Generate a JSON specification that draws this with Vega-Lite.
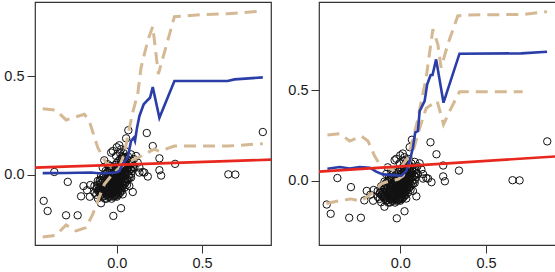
{
  "$schema": "https://vega.github.io/schema/vega-lite/v6.json",
  "padding": {"left": 0, "top": 1, "right": 0, "bottom": 0},
  "spacing": 12,
  "background": "white",
  "config": {
    "view": {"stroke": "#333333", "strokeWidth": 1.2},
    "axis": {
      "domain": false, "grid": false, "tickSize": 8, "tickColor": "#333333", "tickWidth": 1,
      "labelFontSize": 14.5, "labelFont": "Liberation Sans", "labelColor": "#1a1a1a",
      "labelPadding": 3, "title": null
    },
    "axisY": {"minExtent": 34, "maxExtent": 34}
  },
  "datasets": {
    "pts": [
      {"x": -0.366, "y": 0.015}, {"x": -0.428, "y": -0.131}, {"x": -0.405, "y": -0.182}, {"x": -0.287, "y": -0.035},
      {"x": -0.297, "y": -0.204}, {"x": -0.229, "y": -0.204}, {"x": -0.209, "y": -0.108}, {"x": -0.195, "y": -0.056},
      {"x": -0.174, "y": -0.077}, {"x": -0.155, "y": -0.051}, {"x": -0.158, "y": -0.110}, {"x": -0.111, "y": -0.118},
      {"x": -0.092, "y": -0.143}, {"x": -0.020, "y": -0.207}, {"x": 0.025, "y": -0.168}, {"x": 0.094, "y": -0.086},
      {"x": 0.068, "y": 0.226}, {"x": 0.055, "y": 0.185}, {"x": 0.176, "y": 0.212}, {"x": 0.211, "y": 0.146},
      {"x": 0.250, "y": 0.084}, {"x": 0.250, "y": 0.024}, {"x": 0.260, "y": -0.003}, {"x": 0.342, "y": 0.056},
      {"x": 0.182, "y": -0.008}, {"x": 0.152, "y": 0.015}, {"x": 0.133, "y": 0.012}, {"x": 0.654, "y": 0.003},
      {"x": 0.695, "y": 0.002}, {"x": 0.856, "y": 0.217}, {"x": 0.113, "y": 0.096}, {"x": 0.103, "y": 0.037},
      {"x": 0.015, "y": 0.150}, {"x": 0.025, "y": 0.130}, {"x": -0.023, "y": 0.121}, {"x": -0.004, "y": 0.096},
      {"x": 0.084, "y": 0.104}, {"x": 0.123, "y": 0.062}, {"x": 0.133, "y": 0.037}, {"x": 0.162, "y": 0.012},
      {"x": 0.084, "y": 0.029}, {"x": 0.084, "y": -0.013}, {"x": 0.074, "y": -0.056}, {"x": 0.035, "y": -0.098},
      {"x": -0.014, "y": -0.106}, {"x": -0.053, "y": -0.098}, {"x": -0.131, "y": -0.056}, {"x": -0.111, "y": -0.030},
      {"x": -0.092, "y": -0.005}, {"x": -0.082, "y": 0.037}, {"x": -0.053, "y": 0.054}, {"x": -0.073, "y": 0.074},
      {"x": -0.033, "y": 0.113}, {"x": 0.0, "y": 0.14}, {"x": 0.02, "y": 0.11}, {"x": 0.04, "y": 0.09},
      {"x": 0.05, "y": 0.12}, {"x": 0.07, "y": 0.07}, {"x": 0.09, "y": 0.06}, {"x": 0.10, "y": 0.08},
      {"x": -0.10, "y": -0.09}, {"x": -0.09, "y": -0.07}, {"x": -0.09, "y": -0.10}, {"x": -0.08, "y": -0.06},
      {"x": -0.08, "y": -0.08}, {"x": -0.08, "y": -0.11}, {"x": -0.07, "y": -0.04}, {"x": -0.07, "y": -0.07},
      {"x": -0.07, "y": -0.09}, {"x": -0.07, "y": -0.12}, {"x": -0.06, "y": -0.03}, {"x": -0.06, "y": -0.05},
      {"x": -0.06, "y": -0.08}, {"x": -0.06, "y": -0.10}, {"x": -0.06, "y": -0.12}, {"x": -0.05, "y": -0.02},
      {"x": -0.05, "y": -0.04}, {"x": -0.05, "y": -0.06}, {"x": -0.05, "y": -0.08}, {"x": -0.05, "y": -0.10},
      {"x": -0.05, "y": -0.11}, {"x": -0.04, "y": -0.01}, {"x": -0.04, "y": -0.03}, {"x": -0.04, "y": -0.05},
      {"x": -0.04, "y": -0.07}, {"x": -0.04, "y": -0.09}, {"x": -0.04, "y": -0.11}, {"x": -0.03, "y": 0.00},
      {"x": -0.03, "y": -0.02}, {"x": -0.03, "y": -0.04}, {"x": -0.03, "y": -0.06}, {"x": -0.03, "y": -0.08},
      {"x": -0.03, "y": -0.10}, {"x": -0.02, "y": 0.01}, {"x": -0.02, "y": -0.01}, {"x": -0.02, "y": -0.03},
      {"x": -0.02, "y": -0.05}, {"x": -0.02, "y": -0.07}, {"x": -0.02, "y": -0.09}, {"x": -0.01, "y": 0.02},
      {"x": -0.01, "y": 0.00}, {"x": -0.01, "y": -0.02}, {"x": -0.01, "y": -0.04}, {"x": -0.01, "y": -0.06},
      {"x": -0.01, "y": -0.08}, {"x": -0.01, "y": -0.10}, {"x": 0.00, "y": 0.03}, {"x": 0.00, "y": 0.01},
      {"x": 0.00, "y": -0.01}, {"x": 0.00, "y": -0.03}, {"x": 0.00, "y": -0.05}, {"x": 0.00, "y": -0.07},
      {"x": 0.00, "y": -0.09}, {"x": 0.01, "y": 0.04}, {"x": 0.01, "y": 0.02}, {"x": 0.01, "y": 0.00},
      {"x": 0.01, "y": -0.02}, {"x": 0.01, "y": -0.04}, {"x": 0.01, "y": -0.06}, {"x": 0.01, "y": -0.08},
      {"x": 0.02, "y": 0.05}, {"x": 0.02, "y": 0.03}, {"x": 0.02, "y": 0.01}, {"x": 0.02, "y": -0.01},
      {"x": 0.02, "y": -0.03}, {"x": 0.02, "y": -0.05}, {"x": 0.02, "y": -0.07}, {"x": 0.03, "y": 0.06},
      {"x": 0.03, "y": 0.04}, {"x": 0.03, "y": 0.02}, {"x": 0.03, "y": 0.00}, {"x": 0.03, "y": -0.02},
      {"x": 0.03, "y": -0.04}, {"x": 0.03, "y": -0.06}, {"x": 0.04, "y": 0.07}, {"x": 0.04, "y": 0.05},
      {"x": 0.04, "y": 0.03}, {"x": 0.04, "y": 0.01}, {"x": 0.04, "y": -0.01}, {"x": 0.04, "y": -0.03},
      {"x": 0.05, "y": 0.06}, {"x": 0.05, "y": 0.04}, {"x": 0.05, "y": 0.02}, {"x": 0.05, "y": 0.00},
      {"x": 0.05, "y": -0.02}, {"x": 0.06, "y": 0.08}, {"x": 0.06, "y": 0.05}, {"x": 0.06, "y": 0.03},
      {"x": 0.06, "y": 0.01}, {"x": 0.07, "y": 0.06}, {"x": 0.07, "y": 0.04}, {"x": 0.07, "y": 0.02},
      {"x": -0.11, "y": -0.08}, {"x": -0.12, "y": -0.10}, {"x": -0.10, "y": -0.06}, {"x": -0.09, "y": -0.04},
      {"x": -0.08, "y": -0.03}, {"x": -0.06, "y": -0.01}, {"x": -0.05, "y": 0.01}, {"x": -0.04, "y": 0.02},
      {"x": -0.03, "y": 0.03}, {"x": -0.02, "y": 0.04}, {"x": -0.01, "y": 0.05}, {"x": 0.00, "y": 0.06},
      {"x": 0.01, "y": 0.07}, {"x": 0.02, "y": 0.08}, {"x": 0.03, "y": 0.09}, {"x": 0.03, "y": -0.08},
      {"x": 0.02, "y": -0.09}, {"x": 0.01, "y": -0.10}, {"x": 0.00, "y": -0.11}, {"x": -0.02, "y": -0.11},
      {"x": -0.03, "y": -0.12}, {"x": 0.04, "y": -0.05}, {"x": 0.05, "y": -0.04}, {"x": 0.06, "y": -0.02},
      {"x": 0.07, "y": 0.00}, {"x": 0.08, "y": 0.03}, {"x": 0.08, "y": 0.06}, {"x": 0.05, "y": 0.09},
      {"x": 0.04, "y": 0.11},
      {"x": -0.115, "y": -0.065}, {"x": -0.105, "y": -0.075}, {"x": -0.095, "y": -0.085}, {"x": -0.085, "y": -0.095},
      {"x": -0.075, "y": -0.105}, {"x": -0.065, "y": -0.055}, {"x": -0.055, "y": -0.065}, {"x": -0.045, "y": -0.075},
      {"x": -0.035, "y": -0.085}, {"x": -0.025, "y": -0.095}, {"x": -0.015, "y": -0.035}, {"x": -0.005, "y": -0.045},
      {"x": 0.005, "y": -0.055}, {"x": 0.015, "y": -0.065}, {"x": 0.025, "y": -0.075}, {"x": -0.095, "y": -0.025},
      {"x": -0.085, "y": -0.015}, {"x": -0.075, "y": -0.005}, {"x": -0.065, "y": 0.005}, {"x": -0.055, "y": 0.015},
      {"x": 0.055, "y": -0.035}, {"x": 0.065, "y": -0.025}, {"x": 0.075, "y": -0.015}, {"x": 0.085, "y": 0.005},
      {"x": 0.09, "y": 0.02}, {"x": 0.06, "y": -0.05}, {"x": -0.13, "y": -0.09}, {"x": -0.12, "y": -0.07},
      {"x": -0.11, "y": -0.05}, {"x": -0.10, "y": -0.03}, {"x": 0.095, "y": 0.04}, {"x": 0.065, "y": 0.095},
      {"x": 0.045, "y": 0.085}, {"x": 0.025, "y": 0.065}, {"x": -0.035, "y": 0.045}, {"x": -0.045, "y": 0.035},
      {"x": -0.065, "y": 0.02}, {"x": 0.005, "y": -0.095}, {"x": -0.005, "y": -0.105}, {"x": 0.045, "y": -0.065}
    ],
    "lfit": [
      {"x": -0.434, "y": 0.009}, {"x": -0.30, "y": 0.010}, {"x": -0.151, "y": 0.012}, {"x": -0.092, "y": 0.007},
      {"x": -0.004, "y": 0.012}, {"x": 0.015, "y": 0.020}, {"x": 0.035, "y": 0.054}, {"x": 0.064, "y": 0.087},
      {"x": 0.084, "y": 0.172}, {"x": 0.100, "y": 0.188}, {"x": 0.107, "y": 0.172}, {"x": 0.119, "y": 0.239},
      {"x": 0.133, "y": 0.298}, {"x": 0.158, "y": 0.357}, {"x": 0.182, "y": 0.379}, {"x": 0.195, "y": 0.390},
      {"x": 0.211, "y": 0.444}, {"x": 0.250, "y": 0.289}, {"x": 0.338, "y": 0.475}, {"x": 0.650, "y": 0.475},
      {"x": 0.690, "y": 0.483}, {"x": 0.856, "y": 0.493}
    ],
    "lup": [
      {"x": -0.434, "y": 0.335}, {"x": -0.356, "y": 0.327}, {"x": -0.297, "y": 0.278}, {"x": -0.19, "y": 0.307},
      {"x": -0.161, "y": 0.273}, {"x": -0.111, "y": 0.138}, {"x": -0.063, "y": 0.062}, {"x": -0.02, "y": 0.035},
      {"x": 0.02, "y": 0.05}, {"x": 0.045, "y": 0.11}, {"x": 0.07, "y": 0.22}, {"x": 0.095, "y": 0.32},
      {"x": 0.123, "y": 0.41}, {"x": 0.142, "y": 0.54}, {"x": 0.182, "y": 0.68}, {"x": 0.211, "y": 0.75},
      {"x": 0.244, "y": 0.51}, {"x": 0.338, "y": 0.80}, {"x": 0.5, "y": 0.81}, {"x": 0.65, "y": 0.815},
      {"x": 0.856, "y": 0.828}
    ],
    "llo": [
      {"x": -0.434, "y": -0.313}, {"x": -0.356, "y": -0.305}, {"x": -0.297, "y": -0.253}, {"x": -0.239, "y": -0.283},
      {"x": -0.18, "y": -0.266}, {"x": -0.141, "y": -0.199}, {"x": -0.111, "y": -0.131}, {"x": -0.073, "y": -0.047},
      {"x": -0.033, "y": -0.005}, {"x": 0.006, "y": 0.029}, {"x": 0.055, "y": 0.06}, {"x": 0.123, "y": 0.087},
      {"x": 0.162, "y": 0.104}, {"x": 0.22, "y": 0.13}, {"x": 0.25, "y": 0.12}, {"x": 0.338, "y": 0.146},
      {"x": 0.65, "y": 0.146}, {"x": 0.856, "y": 0.158}
    ],
    "lred": [{"x": -0.5, "y": 0.0365}, {"x": 0.95, "y": 0.0786}],
    "rfit": [
      {"x": -0.424, "y": 0.066}, {"x": -0.352, "y": 0.076}, {"x": -0.294, "y": 0.068}, {"x": -0.236, "y": 0.076},
      {"x": -0.178, "y": 0.072}, {"x": -0.140, "y": 0.050}, {"x": -0.101, "y": 0.035}, {"x": -0.042, "y": 0.031},
      {"x": 0.006, "y": 0.028}, {"x": 0.035, "y": 0.053}, {"x": 0.055, "y": 0.109}, {"x": 0.074, "y": 0.182},
      {"x": 0.087, "y": 0.265}, {"x": 0.103, "y": 0.274}, {"x": 0.113, "y": 0.384}, {"x": 0.142, "y": 0.439},
      {"x": 0.157, "y": 0.531}, {"x": 0.177, "y": 0.583}, {"x": 0.188, "y": 0.583}, {"x": 0.209, "y": 0.669},
      {"x": 0.252, "y": 0.430}, {"x": 0.345, "y": 0.700}, {"x": 0.704, "y": 0.702}, {"x": 0.855, "y": 0.711}
    ],
    "rup": [
      {"x": -0.424, "y": 0.252}, {"x": -0.352, "y": 0.259}, {"x": -0.294, "y": 0.219}, {"x": -0.227, "y": 0.246},
      {"x": -0.188, "y": 0.219}, {"x": -0.149, "y": 0.136}, {"x": -0.120, "y": 0.090}, {"x": -0.081, "y": 0.072},
      {"x": -0.04, "y": 0.06}, {"x": 0.0, "y": 0.07}, {"x": 0.04, "y": 0.12}, {"x": 0.074, "y": 0.228},
      {"x": 0.1, "y": 0.33}, {"x": 0.123, "y": 0.439}, {"x": 0.151, "y": 0.568}, {"x": 0.19, "y": 0.835},
      {"x": 0.219, "y": 0.752}, {"x": 0.238, "y": 0.623}, {"x": 0.277, "y": 0.752}, {"x": 0.335, "y": 0.908},
      {"x": 0.374, "y": 0.913}, {"x": 0.723, "y": 0.917}, {"x": 0.855, "y": 0.932}
    ],
    "rlo": [
      {"x": -0.430, "y": -0.125}, {"x": -0.362, "y": -0.112}, {"x": -0.29, "y": -0.10}, {"x": -0.227, "y": -0.112},
      {"x": -0.149, "y": -0.057}, {"x": -0.110, "y": -0.017}, {"x": -0.06, "y": 0.0}, {"x": -0.013, "y": 0.008},
      {"x": 0.016, "y": 0.026}, {"x": 0.045, "y": 0.072}, {"x": 0.074, "y": 0.16}, {"x": 0.103, "y": 0.26},
      {"x": 0.151, "y": 0.40}, {"x": 0.215, "y": 0.439}, {"x": 0.252, "y": 0.311}, {"x": 0.297, "y": 0.402},
      {"x": 0.345, "y": 0.490}, {"x": 0.713, "y": 0.490}
    ],
    "rred": [{"x": -0.5, "y": 0.0485}, {"x": 0.95, "y": 0.137}]
  },
  "hconcat": [
    {
      "width": 236,
      "height": 243,
      "encoding": {
        "x": {"field": "x", "type": "quantitative", "scale": {"domain": [-0.479, 0.904], "nice": false, "zero": false}, "axis": {"values": [0, 0.5], "format": ".1f"}},
        "y": {"field": "y", "type": "quantitative", "scale": {"domain": [-0.354, 0.874], "nice": false, "zero": false}, "axis": {"values": [0, 0.5], "format": ".1f"}}
      },
      "layer": [
        {"data": {"name": "pts"}, "mark": {"type": "point", "shape": "circle", "filled": false, "size": 55, "stroke": "#111111", "strokeWidth": 1, "opacity": 1, "clip": true}},
        {"data": {"name": "lup"}, "mark": {"type": "line", "color": "#d5b995", "strokeWidth": 3, "strokeDash": [12, 7], "clip": true}},
        {"data": {"name": "llo"}, "mark": {"type": "line", "color": "#d5b995", "strokeWidth": 3, "strokeDash": [12, 7], "clip": true}},
        {"data": {"name": "lfit"}, "mark": {"type": "line", "color": "#2b3ea8", "strokeWidth": 2.6, "clip": true}},
        {"data": {"name": "lred"}, "mark": {"type": "line", "color": "#e8281e", "strokeWidth": 2.6, "clip": true}}
      ]
    },
    {
      "width": 237,
      "height": 243,
      "encoding": {
        "x": {"field": "x", "type": "quantitative", "scale": {"domain": [-0.473, 0.907], "nice": false, "zero": false}, "axis": {"values": [0, 0.5], "format": ".1f"}},
        "y": {"field": "y", "type": "quantitative", "scale": {"domain": [-0.354, 0.985], "nice": false, "zero": false}, "axis": {"values": [0, 0.5], "format": ".1f"}}
      },
      "layer": [
        {"data": {"name": "pts"}, "mark": {"type": "point", "shape": "circle", "filled": false, "size": 55, "stroke": "#111111", "strokeWidth": 1, "opacity": 1, "clip": true}},
        {"data": {"name": "rup"}, "mark": {"type": "line", "color": "#d5b995", "strokeWidth": 3, "strokeDash": [12, 7], "clip": true}},
        {"data": {"name": "rlo"}, "mark": {"type": "line", "color": "#d5b995", "strokeWidth": 3, "strokeDash": [12, 7], "clip": true}},
        {"data": {"name": "rfit"}, "mark": {"type": "line", "color": "#2b3ea8", "strokeWidth": 2.6, "clip": true}},
        {"data": {"name": "rred"}, "mark": {"type": "line", "color": "#e8281e", "strokeWidth": 2.6, "clip": true}}
      ]
    }
  ]
}
